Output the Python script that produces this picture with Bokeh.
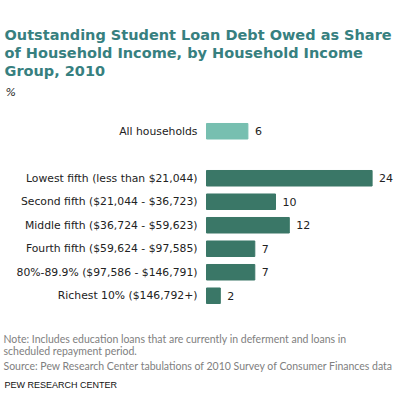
from bokeh.plotting import figure
from bokeh.layouts import column
from bokeh.models import ColumnDataSource, FactorRange, Range1d, LabelSet, Label
from bokeh.core.properties import value
from bokeh.embed import file_html
from bokeh.resources import INLINE

# ---- data ----
categories = ["All households", " ",
              "Lowest fifth (less than $21,044)",
              "Second fifth ($21,044 - $36,723)",
              "Middle fifth ($36,724 - $59,623)",
              "Fourth fifth ($59,624 - $97,585)",
              "80%-89.9% ($97,586 - $146,791)",
              "Richest 10% ($146,792+)"]
bar_categories = [c for c in categories if c.strip()]
values = [6, 24, 10, 12, 7, 7, 2]
value_labels = ["6", "24", "10", "12", "7", "7", "2"]
bar_colors = ["#77bfb0"] + ["#3a7767"] * 6

title_lines = ["Outstanding Student Loan Debt Owed as Share",
               "of Household Income, by Household Income",
               "Group, 2010"]
unit_text = "%"
note_lines = ["Note: Includes education loans that are currently in deferment and loans in",
              "scheduled repayment period."]
source_text = "Source: Pew Research Center tabulations of 2010 Survey of Consumer Finances data"
brand_text = "PEW RESEARCH  CENTER"

W = 394
RULE = 2
H_TOP, H_MID, H_BOT = 117, 188, 84   # + two rules of 2px = 393
FL = 206          # pixel position of the bar baseline
PX_PER_UNIT = 6.9


def bare_fig(h, **kw):
    f = figure(width=W, height=h, output_backend="svg", toolbar_location=None,
               x_axis_type=None, y_axis_type=None,
               min_border=0, min_border_left=0, min_border_right=0,
               min_border_top=0, min_border_bottom=0, **kw)
    f.outline_line_color = None
    f.grid.visible = False
    return f


def rule_fig():
    f = bare_fig(RULE, x_range=Range1d(0, 1), y_range=Range1d(0, 1))
    f.background_fill_color = "black"
    f.border_fill_color = "black"
    return f


def add_text(f, txt, x, y_base, size, color, font, style="normal"):
    f.add_layout(Label(x=x, y=y_base, text=txt, text_font=font, text_font_size=size,
                       text_color=color, text_font_style=style,
                       text_baseline="alphabetic", text_align="left"))


# ---- top: title, unit (data coordinates = pixels from top-left of page) ----
y0 = RULE
top = bare_fig(H_TOP, x_range=Range1d(0, W), y_range=Range1d(y0 + H_TOP, y0))
for i, t in enumerate(title_lines):
    add_text(top, t, 4, 34 + 18 * i, "14.5px", "#37807f", "DejaVu Sans", "bold")
add_text(top, unit_text, 5, 92, "11px", "#222222", "DejaVu Sans", "italic")

# ---- middle: bars ----
src = ColumnDataSource(dict(cat=bar_categories, val=values, lab=value_labels, col=bar_colors,
                            zero=[0] * len(values)))
p = bare_fig(H_MID,
             y_range=FactorRange(factors=list(reversed(categories))),
             x_range=Range1d(-FL / PX_PER_UNIT, (W - FL) / PX_PER_UNIT))
p.hbar(y="cat", right="val", left=0, height=0.66, color="col", source=src)
p.add_layout(LabelSet(x="zero", y="cat", text="cat", source=src, x_offset=-9,
                      text_align="right", text_baseline="middle",
                      text_font=value("DejaVu Sans"), text_font_size="10.8px",
                      text_color="#222222"))
p.add_layout(LabelSet(x="val", y="cat", text="lab", source=src, x_offset=7,
                      text_baseline="middle", text_font=value("DejaVu Sans"),
                      text_font_size="11px", text_color="#222222"))

# ---- bottom: notes, source, brand ----
y1 = RULE + H_TOP + H_MID
bot = bare_fig(H_BOT, x_range=Range1d(0, W), y_range=Range1d(y1 + H_BOT, y1))
add_text(bot, note_lines[0], 3, 338, "10.5px", "#808080", "Lato")
add_text(bot, note_lines[1], 3, 350, "10.5px", "#808080", "Lato")
add_text(bot, source_text, 3, 365, "10.5px", "#808080", "Lato")
add_text(bot, brand_text, 4, 384, "9px", "#111111", "Liberation Sans")

layout = column(rule_fig(), top, p, bot, rule_fig(), spacing=0)
open("out.html", "w").write(file_html(layout, INLINE))
